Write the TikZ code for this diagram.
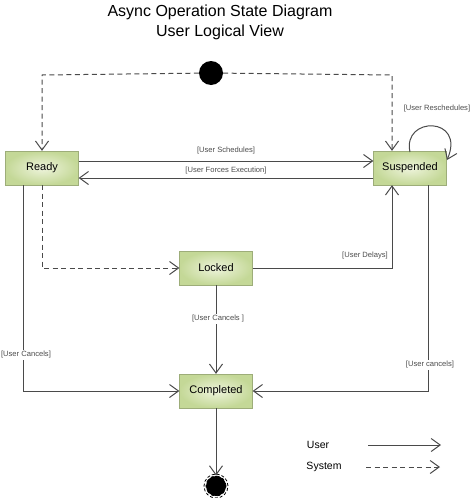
\documentclass[tikz,border=0pt]{standalone}
\usepackage{fontspec}
\setmainfont{Liberation Sans}
\usetikzlibrary{arrows.meta,shadows}
\definecolor{linegray}{HTML}{4A4A4A}
\definecolor{boxin}{HTML}{EEF4DC}
\definecolor{boxout}{HTML}{C4D897}
\tikzset{
  state/.style={rectangle, minimum width=73pt, minimum height=34pt, inner color=boxin, outer color=boxout,
    draw=boxout!80!black, line width=0.3pt, font=\fontsize{11}{13}\selectfont,
    drop shadow={shadow xshift=0pt, shadow yshift=-1.2pt, opacity=0.6, fill=black!60}},
  user/.style={draw=linegray, line width=1pt, -{Straight Barb[length=9pt,width=13pt,line width=1pt]}},
  sys/.style={user, dash pattern=on 5pt off 3.5pt},
  lbl/.style={font=\fontsize{7.6}{9}\selectfont, text=black!70, inner sep=1pt},
  lblw/.style={lbl, fill=white},
}
\begin{document}
\begin{tikzpicture}[x=1pt,y=-1pt]
\useasboundingbox (0,0) rectangle (474,498);
% title
\node[font=\fontsize{16}{19}\selectfont] (t1) at (220,12) {Async Operation State Diagram};
\node[font=\fontsize{16}{19}\selectfont] (t2) at (220,32) {User Logical View};
% states
\node[state] (ready) at (42,168) {Ready};
\node[state] (susp) at (410,168) {Suspended};
\node[state] (locked) at (216,268) {Locked};
\node[state] (comp) at (216,391) {Completed};
\node[circle, fill=black, minimum size=24pt, inner sep=0pt] (init) at (211,73) {};
\node[circle, fill=black, minimum size=20pt, inner sep=0pt, draw=black, line width=0.8pt, dashed] (final) at (216,486) {};
\draw[black, line width=0.8pt, dash pattern=on 3pt off 2pt] (final.center) circle (12pt);
% coordinates
\coordinate (tl) at (42,75);
\coordinate (tr) at (392,75);
\coordinate (rc1) at (23,391);
\coordinate (rc2) at (42,268);
\coordinate (lc) at (392,268);
\coordinate (sc) at (428,391);
% initial transitions
\draw[sys] (init) -- (tl) -- (ready.north);
\draw[sys] (init) -- (tr) -- (tr |- susp.north);
% ready <-> suspended
\draw[user] ([yshift=7pt]ready.east) -- node[lbl, above=5pt] {[User Schedules]} ([yshift=7pt]susp.west);
\draw[user] ([yshift=-10pt]susp.west) -- node[lbl, above=2pt] {[User Forces Execution]} ([yshift=-10pt]ready.east);
% self loop
\coordinate (sl1) at (410,152);
\coordinate (sl2) at (447,160);
\draw[user] (sl1) .. controls (402,116) and (466,116) .. (sl2);
\node[lbl] (lres) at (437,109) {[User Reschedules]};
% ready -> locked (system)
\draw[sys] (ready.south) -- (rc2) -- (locked.west);
% ready -> completed
\draw[user] (rc1 |- ready.south) -- (rc1) -- (comp.west);
\node[lblw] (lrc) at (26,355) {[User Cancels]};
% locked -> suspended
\draw[user] (locked.east) -- (lc) -- (lc |- susp.south);
\node[lbl] (ldel) at (365,256) {[User Delays]};
% locked -> completed
\draw[user] (locked.south) -- (comp.north);
\node[lblw] (llc) at (218,319) {[User Cancels ]};
% suspended -> completed
\draw[user] (sc |- susp.south) -- (sc) -- (comp.east);
\node[lblw] (lsc) at (430,365) {[User cancels]};
% completed -> final
\draw[user] (comp.south) -- (final.north);
% legend
\node[font=\fontsize{10.5}{12}\selectfont] (luser) at (318,445) {User};
\node[font=\fontsize{10.5}{12}\selectfont] (lsys) at (324,467) {System};
\coordinate (lu1) at (368,445);
\coordinate (lu2) at (441,445);
\coordinate (ls1) at (366,467);
\coordinate (ls2) at (440,467);
\draw[user] (lu1) -- (lu2);
\draw[sys] (ls1) -- (ls2);
\end{tikzpicture}
\end{document}
